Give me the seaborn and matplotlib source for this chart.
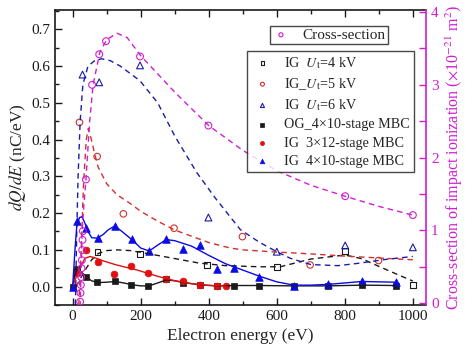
import numpy as np
import matplotlib
matplotlib.use("Agg")
import matplotlib.pyplot as plt
import matplotlib.ticker as ticker
import seaborn as sns

# ---- data ----
# cross-section (right axis, x1e-21 m^2)
cs_x = [22, 23, 24, 25, 26, 27, 28, 29, 30, 39, 57, 78, 98, 198, 399, 801, 1000]
cs_y = [0.02, 0.14, 0.25, 0.36, 0.48, 0.59, 0.73, 0.87, 0.99, 1.70, 3.0, 3.42, 3.6, 3.39, 2.44, 1.47, 1.21]
csf_x = [22, 25, 28, 33, 39, 50, 60, 80, 100, 130, 160, 200, 300, 400, 500, 600, 700, 800, 900, 1000]
csf_y = [-0.05, 0.5, 1.0, 1.35, 1.7, 2.5, 3.0, 3.45, 3.62, 3.71, 3.65, 3.4, 2.9, 2.44, 2.1, 1.82, 1.62, 1.47, 1.33, 1.21]

# IG Ut=4 kV
u4_x = [12, 73, 197, 396, 600, 801, 1000]
u4_y = [0.04, 0.094, 0.089, 0.059, 0.054, 0.097, 0.005]
u4f_x = [10, 26, 40, 56, 75, 100, 130, 170, 220, 296, 372, 450, 550, 610, 700, 800, 850, 900, 1000]
u4f_y = [0.0, 0.027, 0.05, 0.073, 0.09, 0.098, 0.1, 0.098, 0.09, 0.077, 0.064, 0.057, 0.054, 0.054, 0.075, 0.086, 0.076, 0.055, 0.015]

# IG Ut=5 kV
u5_x = [20, 72, 149, 298, 499, 698, 899]
u5_y = [0.447, 0.354, 0.198, 0.159, 0.136, 0.059, 0.071]
u5f_x = [18, 25, 32, 40, 46, 55, 65, 75, 100, 130, 168, 200, 250, 300, 400, 463, 500, 600, 700, 800, 900, 1000]
u5f_y = [-0.05, 0.1, 0.28, 0.4, 0.43, 0.4, 0.36, 0.325, 0.28, 0.25, 0.227, 0.205, 0.178, 0.154, 0.12, 0.105, 0.1, 0.094, 0.089, 0.083, 0.078, 0.073]

# IG Ut=6 kV
u6_x = [29, 78, 198, 399, 600, 801, 1000]
u6_y = [0.577, 0.556, 0.602, 0.188, 0.095, 0.112, 0.107]
u6f_x = [8, 12, 16, 22, 30, 45, 65, 85, 110, 140, 198, 250, 300, 365, 420, 493, 550, 600, 640, 700, 780, 845, 920, 1000]
u6f_y = [-0.05, 0.15, 0.3, 0.45, 0.55, 0.6, 0.615, 0.62, 0.615, 0.6, 0.56, 0.5, 0.41, 0.31, 0.24, 0.155, 0.12, 0.095, 0.077, 0.06, 0.057, 0.064, 0.074, 0.082]

# OG 4x10-stage MBC
og_x = [0, 12, 38, 72, 123, 172, 222, 274, 324, 374, 424, 474, 549, 650, 750, 850, 950]
og_y = [0.0, 0.048, 0.027, 0.012, 0.014, 0.005, 0.001, 0.021, 0.011, 0.004, 0.001, 0.003, 0.002, 0.002, 0.002, 0.004, 0.003]
ogf_x = [0, 6, 12, 25, 40, 55, 75, 100, 125, 150, 175, 200, 225, 250, 275, 300, 325, 375, 425, 475, 550, 650, 750, 850, 950]
ogf_y = [0.0, 0.03, 0.047, 0.04, 0.027, 0.016, 0.011, 0.012, 0.014, 0.01, 0.005, 0.002, 0.002, 0.01, 0.018, 0.016, 0.011, 0.005, 0.002, 0.003, 0.003, 0.002, 0.002, 0.004, 0.003]

# IG 3x12-stage MBC
m3_x = [12, 39, 73, 122, 171, 222, 274, 324, 374, 424, 451]
m3_y = [0.036, 0.1, 0.068, 0.034, 0.056, 0.036, 0.021, 0.014, 0.004, 0.002, 0.003]
m3f_x = [0, 12, 21, 36, 51, 70, 90, 125, 159, 190, 222, 250, 275, 300, 350, 400, 450]
m3f_y = [0.0, 0.03, 0.05, 0.077, 0.082, 0.077, 0.07, 0.06, 0.052, 0.045, 0.036, 0.028, 0.022, 0.016, 0.008, 0.003, 0.002]

# IG 4x10-stage MBC
m4_x = [0, 12, 39, 73, 124, 174, 224, 274, 324, 374, 424, 474, 549, 650, 750, 850, 950]
m4_y = [0.0, 0.179, 0.159, 0.132, 0.164, 0.129, 0.097, 0.129, 0.102, 0.114, 0.048, 0.05, 0.025, 0.003, 0.006, 0.014, 0.012]
m4f_x = [0, 6, 12, 20, 27, 35, 45, 56, 73, 90, 105, 124, 145, 175, 200, 225, 250, 275, 300, 350, 400, 450, 500, 550, 600, 650, 700, 750, 800, 850, 900, 950]
m4f_y = [0.0, 0.09, 0.165, 0.188, 0.19, 0.175, 0.15, 0.133, 0.132, 0.142, 0.155, 0.165, 0.15, 0.127, 0.105, 0.097, 0.113, 0.128, 0.125, 0.11, 0.085, 0.062, 0.045, 0.028, 0.013, 0.004, 0.004, 0.006, 0.01, 0.014, 0.013, 0.012]

MAG = "#d01ed0"
NAVY = "#1c1ca8"
BLUE = "#0a0ae6"
RED = "#e01010"
DRED = "#d03030"

sns.set_theme(style="ticks")
plt.rcParams["font.family"] = ["Liberation Serif", "DejaVu Serif"]
plt.rcParams["mathtext.fontset"] = "stix"
plt.rcParams["xtick.direction"] = "in"
plt.rcParams["ytick.direction"] = "in"

fig = plt.figure(figsize=(4.74, 3.53), dpi=100)
ax = fig.add_axes([0.116, 0.136, 0.783, 0.836])
ax2 = ax.twinx()

dash = dict(linestyle=(0, (4, 3)), linewidth=1.0)

# fitted curves
sns.lineplot(x=u4f_x, y=u4f_y, ax=ax, color="k", sort=False, **dash)
sns.lineplot(x=u5f_x, y=u5f_y, ax=ax, color=DRED, sort=False, **dash)
sns.lineplot(x=u6f_x, y=u6f_y, ax=ax, color=NAVY, sort=False, **dash)
sns.lineplot(x=ogf_x, y=ogf_y, ax=ax, color="k", sort=False, linewidth=1.0)
sns.lineplot(x=m3f_x, y=m3f_y, ax=ax, color=RED, sort=False, linewidth=1.0)
sns.lineplot(x=m4f_x, y=m4f_y, ax=ax, color=BLUE, sort=False, linewidth=1.0)
sns.lineplot(x=csf_x, y=csf_y, ax=ax2, color=MAG, sort=False, **dash)

# markers
sns.scatterplot(x=u4_x, y=u4_y, ax=ax, marker="s", s=18, facecolor="none",
                edgecolor="k", linewidth=0.8, label=r"IG  $U_{\rm t}$=4 kV")
sns.scatterplot(x=u5_x, y=u5_y, ax=ax, marker="o", s=22, facecolor="none",
                edgecolor=DRED, linewidth=0.8, label=r"IG_$U_{\rm t}$=5 kV")
sns.scatterplot(x=u6_x, y=u6_y, ax=ax, marker="^", s=24, facecolor="none",
                edgecolor=NAVY, linewidth=0.8, label=r"IG  $U_{\rm t}$=6 kV")
sns.scatterplot(x=og_x, y=og_y, ax=ax, marker="s", s=18, color="k",
                edgecolor="k", linewidth=0.5, label="OG_4×10-stage MBC")
sns.scatterplot(x=m3_x, y=m3_y, ax=ax, marker="o", s=24, color=RED,
                edgecolor=RED, linewidth=0.5, label="IG  3×12-stage MBC")
sns.scatterplot(x=m4_x, y=m4_y, ax=ax, marker="^", s=30, color=BLUE,
                edgecolor=BLUE, linewidth=0.5, label="IG  4×10-stage MBC")
sns.scatterplot(x=cs_x, y=cs_y, ax=ax2, marker="o", s=24, facecolor="none",
                edgecolor=MAG, linewidth=0.8, label="Cross-section")

# axes
ax.set_xlim(-52, 1039)
ax.set_ylim(-0.05, 0.753)
ax2.set_ylim(-0.025, 4.03)
ax.xaxis.set_major_locator(ticker.MultipleLocator(200))
ax.xaxis.set_minor_locator(ticker.MultipleLocator(100))
ax.yaxis.set_major_locator(ticker.MultipleLocator(0.1))
ax.yaxis.set_minor_locator(ticker.MultipleLocator(0.05))
ax.yaxis.set_major_formatter(ticker.FormatStrFormatter("%.1f"))
ax2.yaxis.set_major_locator(ticker.MultipleLocator(1))
ax2.yaxis.set_minor_locator(ticker.MultipleLocator(0.5))

ax.tick_params(which="both", top=True, right=False, labelsize=11, width=1.0, colors="k")
ax.tick_params(which="major", length=5)
ax.tick_params(which="minor", length=3)
ax2.tick_params(which="both", right=True, labelsize=11, width=1.0, colors=MAG)
ax2.tick_params(which="major", length=5)
ax2.tick_params(which="minor", length=5)

for s in ["left", "bottom", "top"]:
    ax.spines[s].set_linewidth(1.2)
    ax.spines[s].set_color("k")
ax.spines["right"].set_visible(False)
for s in ["left", "bottom", "top"]:
    ax2.spines[s].set_visible(False)
ax2.spines["right"].set_color(MAG)
ax2.spines["right"].set_linewidth(1.2)

ax.set_xlabel("Electron energy (eV)", fontsize=12.5, labelpad=4)
ax.set_ylabel(r"$dQ/dE$ (nC/eV)", fontsize=12.5, labelpad=2)
ax2.set_ylabel(r"Cross-section of impact ionization ($\times$10$^{-21}$ m$^2$)",
               fontsize=11.5, color=MAG, labelpad=4)

# legends (both on top axes)
h1, l1 = ax.get_legend_handles_labels()
h2, l2 = ax2.get_legend_handles_labels()
if ax.get_legend():
    ax.get_legend().remove()
if ax2.get_legend():
    ax2.get_legend().remove()

leg_cs = ax2.legend(h2, l2, loc="upper left", bbox_to_anchor=(0.578, 0.946),
                    borderaxespad=0, fontsize=11, frameon=True, fancybox=False,
                    edgecolor="k", handletextpad=0.8, borderpad=0.15,
                    handlelength=1.2, scatterpoints=1, markerscale=0.6)
leg_cs.get_frame().set_linewidth(1.0)
ax2.add_artist(leg_cs)
leg = ax2.legend(h1, l1, loc="upper left", bbox_to_anchor=(0.517, 0.862),
                 borderaxespad=0, fontsize=10.2, frameon=True, fancybox=False,
                 edgecolor="k", handletextpad=0.7, borderpad=0.3,
                 handlelength=1.6, labelspacing=0.38, scatterpoints=1, markerscale=0.6)
leg.get_frame().set_linewidth(1.0)

fig.savefig("out.png", dpi=100)
